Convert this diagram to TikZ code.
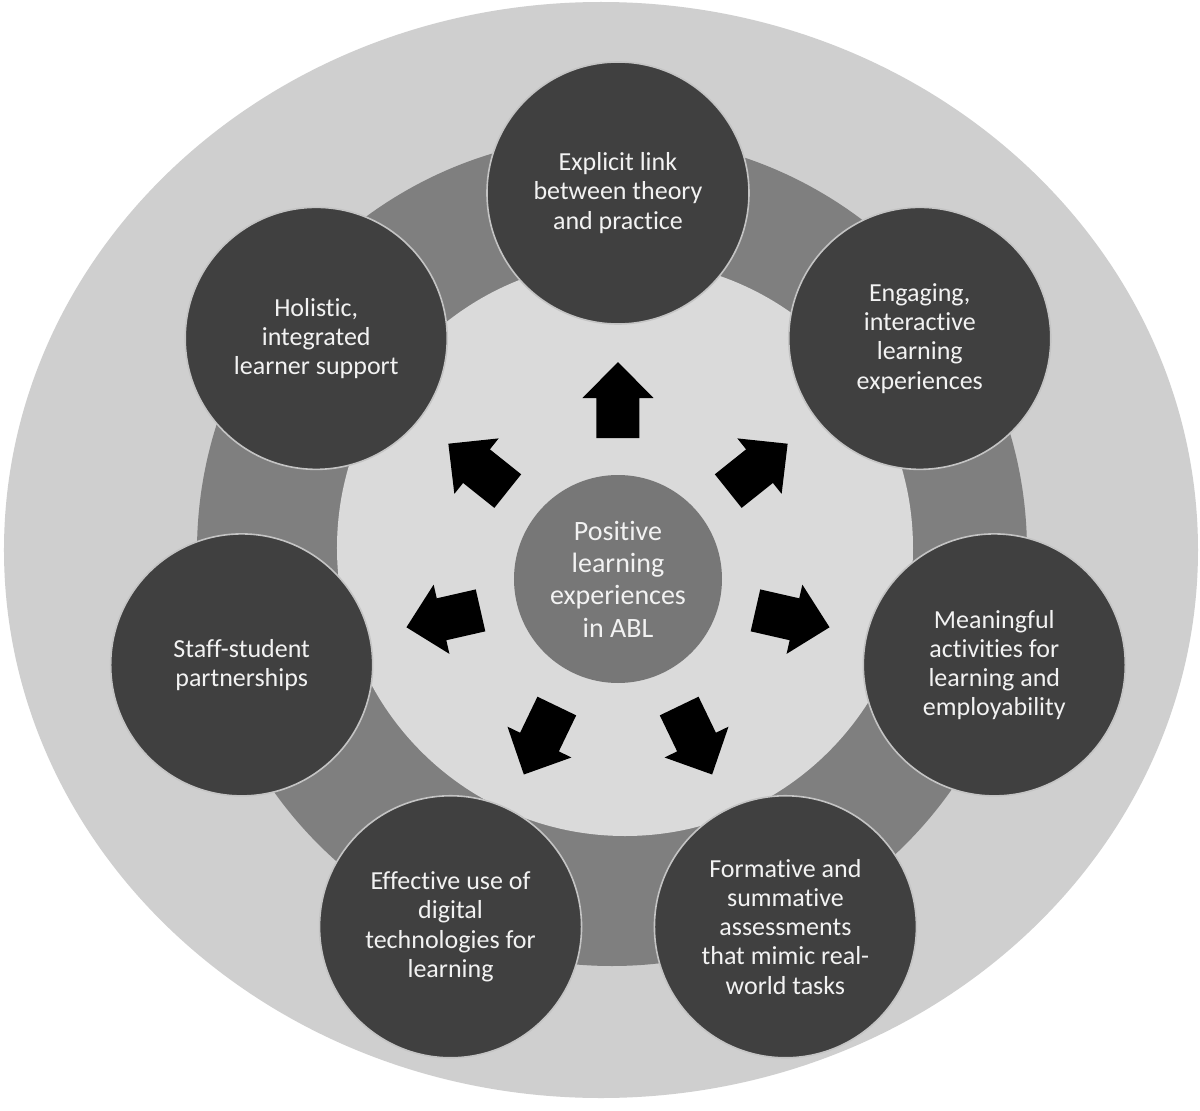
\documentclass[tikz,border=0pt]{standalone}
\usepackage{fontspec}
\setmainfont{Carlito}[Ligatures=NoCommon]
\usetikzlibrary{calc}
\definecolor{outergray}{HTML}{CFCFCF}
\definecolor{ringgray}{HTML}{7F7F7F}
\definecolor{innergray}{HTML}{DADADA}
\definecolor{petalgray}{HTML}{404040}
\definecolor{hubgray}{HTML}{777777}
\definecolor{edgegray}{HTML}{C4C4C4}
\definecolor{textgray}{HTML}{F2F2F2}

\begin{document}
\begin{tikzpicture}[x=0.5pt,y=0.5pt,
  petal/.style={circle,draw=edgegray,line width=0.8pt,fill=petalgray,minimum size=131pt,inner sep=0pt,align=center,text=textgray,font=\fontsize{13}{14.6}\selectfont},
  hubnode/.style={circle,fill=hubgray,minimum size=104pt,inner sep=0pt,align=center,text=textgray,font=\fontsize{14}{16.2}\selectfont},
  blockarrow/.style={fill=black}]
\useasboundingbox (-618,-531) rectangle (582,579);
\fill[white] (-618,-531) rectangle (582,579);
\fill[outergray] (-17,29) ellipse [x radius=597,y radius=548];
\fill[ringgray] (-6,28) circle [radius=415];
\fill[innergray] (7,31) circle [radius=288];
\node[hubnode] (hub) at (0,0) {Positive\\learning\\experiences\\in ABL};
\foreach \k in {0,...,6}{
  \begin{scope}[shift={(hub.center)},rotate=90-\k*360/7]
    \fill[blockarrow] (141,-21.5) -- (181,-21.5) -- (181,-35.5) -- (217,0) -- (181,35.5) -- (181,21.5) -- (141,21.5) -- cycle;
  \end{scope}
}
\node[petal] (theory) at ($(hub)+(90:386)$) {Explicit link\\between theory\\and practice};
\node[petal] (engaging) at ($(hub)+(38.57:386)$) {Engaging,\\interactive\\learning\\experiences};
\node[petal] (meaningful) at ($(hub)+(-12.86:386)$) {Meaningful\\activities for\\learning and\\employability};
\node[petal] (formative) at ($(hub)+(-64.29:386)$) {Formative and\\summative\\assessments\\that mimic real-\\world tasks};
\node[petal] (digital) at ($(hub)+(-115.71:386)$) {Effective use of\\digital\\technologies for\\learning};
\node[petal] (partner) at ($(hub)+(-167.14:386)$) {Staff-student\\partnerships};
\node[petal] (support) at ($(hub)+(141.43:386)$) {Holistic,\\integrated\\learner support};
\end{tikzpicture}
\end{document}
